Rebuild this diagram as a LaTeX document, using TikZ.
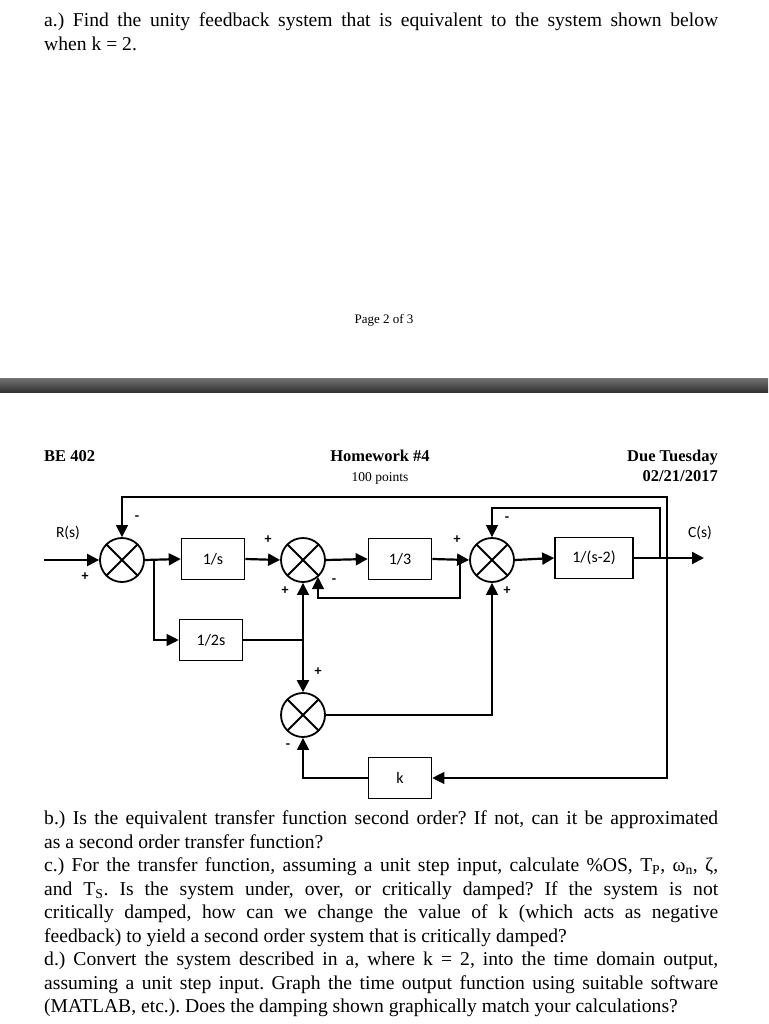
\documentclass[tikz,border=0pt]{standalone}
\usepackage{fontspec}
\setmainfont{Liberation Serif}
\newfontfamily\lab{Carlito}
\usetikzlibrary{arrows.meta}
\begin{document}
\frenchspacing
\begin{tikzpicture}[x=1pt,y=-1pt,
  sum/.style={circle,draw,line width=1.8pt,minimum size=44pt,inner sep=0pt,
    path picture={\draw[line width=1.8pt] (path picture bounding box.north west)--(path picture bounding box.south east)
      (path picture bounding box.north east)--(path picture bounding box.south west);}},
  blk/.style={draw,line width=1.6pt,minimum width=63pt,minimum height=41pt,font=\lab\fontsize{16}{16}\selectfont},
  thk/.style={line width=2.2pt,-{Triangle[length=12pt,width=12pt]}},
  thn/.style={line width=1.1pt,-{Triangle[length=12pt,width=12pt]}},
  sg/.style={font=\lab\fontsize{14}{14}\selectfont\bfseries,inner sep=0pt},
  line/.style={anchor=base west,inner sep=0pt,font=\fontsize{19.6}{22}\selectfont}]
\useasboundingbox (0,0) rectangle (768,1024);
% top text
\node[line] (ta) at (44,27) {\makebox[674pt][s]{a.) Find the unity feedback system that is equivalent to the system shown below}};
\node[line] (tb) at (44,51) {when k = 2.};
\node[font=\fontsize{13}{14}\selectfont] (pg) at (384,320) {Page 2 of 3};
% band
\shade[top color=black!55,bottom color=black!80] (0,378) rectangle (768,392);
% header
\node[anchor=base west,inner sep=0pt,font=\fontsize{16.5}{16}\selectfont\bfseries] (be) at (44,461) {BE 402};
\node[anchor=base,inner sep=0pt,font=\fontsize{16.5}{16}\selectfont\bfseries] (hw) at (380,461) {Homework \#4};
\node[anchor=base,inner sep=0pt,font=\fontsize{13.5}{14}\selectfont] (pts) at (380,481) {100 points};
\node[anchor=base east,inner sep=0pt,font=\fontsize{16.5}{16}\selectfont\bfseries] (due) at (718,461) {Due Tuesday};
\node[anchor=base east,inner sep=0pt,font=\fontsize{16.5}{16}\selectfont\bfseries] (dt) at (718,481) {02/21/2017};
% diagram
\node[sum] (s1) at (122,560) {};
\node[blk] (b1) at (213,559) {1/s};
\node[sum] (s2) at (303,560) {};
\node[blk] (b3) at (400,559) {1/3};
\node[sum] (s3) at (492,560) {};
\node[blk,minimum width=78pt] (b4) at (594,558) {1/(s-2)};
\node[blk] (b2) at (211,640) {1/2s};
\node[sum] (s4) at (303,715) {};
\node[blk] (bk) at (400,778) {k};
\coordinate (in) at (44,560);
\coordinate (out) at (704,558);
\coordinate (j1) at (154,560);
\coordinate (j2) at (303,640);
\coordinate (j3) at (460,560);
\coordinate (j4) at (660,558);
\coordinate (j5) at (667,558);
\node[font=\lab\fontsize{15.5}{15}\selectfont] (rs) at (68,533) {R(s)};
\node[font=\lab\fontsize{15.5}{15}\selectfont] (cs) at (700,533) {C(s)};
\draw[thk] (in) -- (s1.west);
\draw[thk] (s1.east) -- (b1.west);
\draw[thk] (b1.east) -- (s2.west);
\draw[thk] (s2.east) -- (b3.west);
\draw[thk] (b3.east) -- (s3.west);
\draw[thk] (s3.east) -- (b4.west);
\draw[thk] (b4.east) -- (out);
\draw[thn] (j1) |- (b2.west);
\draw[line width=1.1pt] (b2.east) -- (j2);
\draw[thn] (j2) -- (s2.south);
\draw[thk] (j2) -- (s4.north);
\draw[thn] (j3) |- (318,598) -- (318,577);
\draw[thn] (s4.east) -| (s3.south);
\draw[thn] (bk.west) -| (s4.south);
\draw[thn] (j5) |- (bk.east);
\draw[thn] (j4) |- (492,508) -- (s3.north);
\draw[thn] (j5) |- (122,497) -- (s1.north);
% signs
\node[sg] (p1) at (137,518) {-};
\node[sg] (p2) at (85,577) {+};
\node[sg] (p3) at (268,540) {+};
\node[sg] (p4) at (285,591) {+};
\node[sg] (p5) at (334,581) {-};
\node[sg] (p6) at (457,540) {+};
\node[sg] (p7) at (507,519) {-};
\node[sg] (p8) at (507,591) {+};
\node[sg] (p9) at (318,672) {+};
\node[sg] (p10) at (288,746) {-};
% bottom text
\node[line] (l1) at (44,824) {\makebox[674pt][s]{b.) Is the equivalent transfer function second order? If not, can it be approximated}};
\node[line] (l2) at (44,848) {as a second order transfer function?};
\node[line] (l3) at (44,871) {\makebox[674pt][s]{c.) For the transfer function, assuming a unit step input, calculate \%OS, T\textsubscript{P}, ω\textsubscript{n}, ζ,}};
\node[line] (l4) at (44,895) {\makebox[674pt][s]{and T\textsubscript{S}. Is the system under, over, or critically damped? If the system is not}};
\node[line] (l5) at (44,918) {\makebox[674pt][s]{critically damped, how can we change the value of k (which acts as negative}};
\node[line] (l6) at (44,942) {feedback) to yield a second order system that is critically damped?};
\node[line] (l7) at (44,965) {\makebox[674pt][s]{d.) Convert the system described in a, where k = 2, into the time domain output,}};
\node[line] (l8) at (44,989) {\makebox[674pt][s]{assuming a unit step input. Graph the time output function using suitable software}};
\node[line] (l9) at (44,1012) {(MATLAB, etc.). Does the damping shown graphically match your calculations?};
\end{tikzpicture}
\end{document}
